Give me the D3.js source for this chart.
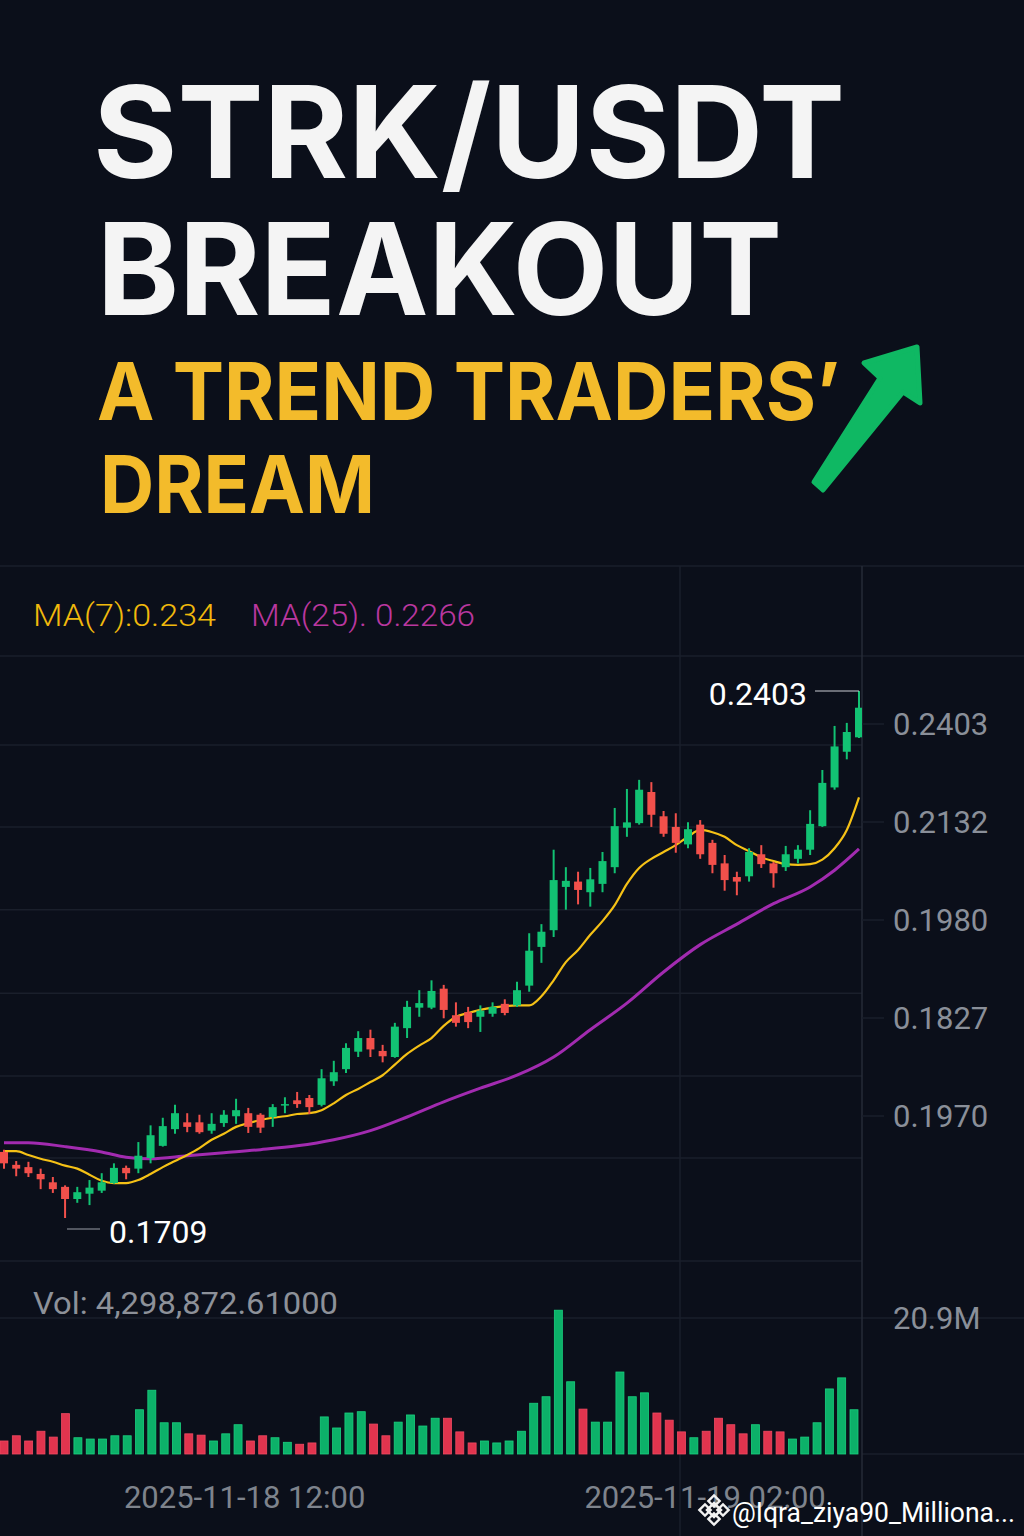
<!DOCTYPE html>
<html><head><meta charset="utf-8">
<script src="https://cdn.jsdelivr.net/npm/d3@7"></script>
<style>body{margin:0;background:#0b0f1a}svg{display:block}</style>
</head><body>
<svg id="chart" width="1024" height="1536"></svg>
<script>
// ---------- DATA ----------
const candleOpen = [
0.1796,0.1779,0.1776,0.1767,0.1756,0.1750,0.1734,0.1741,0.1745,0.1755,
0.1775,0.1774,0.1788,0.1804,0.1826,0.1835,0.1835,0.1824,0.1834,0.1843,
0.1847,0.1845,0.1842,0.1858,0.1864,0.1867,0.1858,0.1889,0.1905,0.1928,
0.1946,0.1929,0.1921,0.1959,0.1986,0.1986,0.2011,0.1976,0.1980,0.1974,
0.1978,0.1991,0.1989,0.2015,0.2066,0.2088,0.2145,0.2152,0.2138,0.2149,
0.2171,0.2223,0.2229,0.2270,0.2238,0.2224,0.2201,0.2227,0.2203,0.2176,
0.2158,0.2159,0.2188,0.2176,0.2171,0.2182,0.2194,0.2225,0.2276,0.2323,
0.2342];
const candleClose = [
0.1781,0.1774,0.1768,0.1760,0.1747,0.1734,0.1743,0.1749,0.1756,0.1775,
0.1768,0.1791,0.1818,0.1830,0.1847,0.1829,0.1822,0.1833,0.1845,0.1851,
0.1829,0.1828,0.1855,0.1859,0.1859,0.1855,0.1893,0.1901,0.1933,0.1946,
0.1931,0.1922,0.1961,0.1987,0.1992,0.2008,0.1983,0.1966,0.1967,0.1982,
0.1987,0.1979,0.2009,0.2061,0.2086,0.2154,0.2153,0.2141,0.2155,0.2179,
0.2225,0.2230,0.2273,0.2240,0.2215,0.2203,0.2221,0.2188,0.2174,0.2154,
0.2152,0.2191,0.2175,0.2163,0.2188,0.2194,0.2228,0.2282,0.2330,0.2349,
0.2381];
const candleHigh = [
0.1799,0.1784,0.1783,0.1774,0.1763,0.1752,0.1750,0.1759,0.1768,0.1781,
0.1778,0.1809,0.1831,0.1841,0.1858,0.1847,0.1845,0.1847,0.1851,0.1866,
0.1854,0.1847,0.1859,0.1868,0.1875,0.1871,0.1905,0.1916,0.1939,0.1955,
0.1957,0.1937,0.1966,0.1995,0.2009,0.2022,0.2016,0.1993,0.1987,0.1989,
0.1993,0.1997,0.2020,0.2084,0.2096,0.2194,0.2171,0.2165,0.2170,0.2191,
0.2249,0.2274,0.2286,0.2283,0.2245,0.2242,0.2230,0.2233,0.2207,0.2187,
0.2165,0.2196,0.2200,0.2178,0.2199,0.2200,0.2246,0.2299,0.2357,0.2361,
0.2403];
const candleLow = [
0.1774,0.1764,0.1763,0.1747,0.1742,0.1709,0.1729,0.1726,0.1742,0.1754,
0.1760,0.1768,0.1781,0.1803,0.1820,0.1822,0.1820,0.1820,0.1829,0.1833,
0.1821,0.1821,0.1829,0.1847,0.1854,0.1846,0.1856,0.1883,0.1900,0.1921,
0.1921,0.1914,0.1920,0.1946,0.1974,0.1984,0.1972,0.1961,0.1959,0.1954,
0.1974,0.1976,0.1987,0.2007,0.2045,0.2079,0.2115,0.2122,0.2119,0.2138,
0.2163,0.2211,0.2227,0.2224,0.2211,0.2190,0.2196,0.2182,0.2163,0.2140,
0.2134,0.2152,0.2170,0.2144,0.2166,0.2176,0.2187,0.2224,0.2273,0.2313,
0.2341];

// MA(7) values by candle index
const ma7Index = d3.range(71);
const ma7Values = [
0.1797,0.1797,0.1792,0.1787,0.1783,0.1778,0.1774,0.1766,0.1758,0.1755,
0.1755,0.1759,0.1767,0.1776,0.1784,0.1792,0.1801,0.1812,0.1820,0.1829,
0.1834,0.1838,0.1841,0.1843,0.1846,0.1847,0.1851,0.1860,0.1871,0.1879,
0.1888,0.1897,0.1911,0.1925,0.1936,0.1946,0.1962,0.1974,0.1979,0.1983,
0.1986,0.1988,0.1989,0.1989,0.2001,0.2022,0.2046,0.2062,0.2082,0.2100,
0.2121,0.2149,0.2170,0.2182,0.2191,0.2200,0.2211,0.2220,0.2217,0.2211,
0.2200,0.2192,0.2184,0.2179,0.2175,0.2174,0.2175,0.2181,0.2196,0.2220,
0.2263];
// MA(25) values at selected candle indices
const ma25Index  = [0,2,5,8,10,12,15,18,21,24,27,30,33,36,39,42,45,48,51,54,57,60,63,66,68,70];
const ma25Values = [0.1808,0.1808,0.1803,0.1796,0.1789,0.1787,0.1791,0.1795,0.1799,0.1804,
                    0.1812,0.1824,0.1842,0.1862,0.1880,0.1897,0.1921,0.1957,0.1992,0.2033,
                    0.2069,0.2096,0.2123,0.2145,0.2167,0.2195];

// Volume (millions) and direction
const volumeM = [2.0,2.8,2.0,3.5,2.6,6.2,2.5,2.3,2.3,2.8, 2.8,6.8,9.8,4.8,4.8,3.1,2.9,2.0,3.1,4.5,
                 2.0,2.8,2.5,1.8,1.5,1.7,5.7,4.0,6.3,6.5, 4.6,2.8,4.9,6.0,4.3,5.5,5.5,3.4,1.7,2.0,
                 1.7,2.0,3.5,7.8,8.8,22.1,11.1,6.9,4.9,4.9, 12.6,8.8,9.4,6.3,5.2,3.4,2.5,3.5,5.5,4.5,
                 3.1,4.5,3.5,3.4,2.3,2.6,4.8,10.0,11.7,6.8];
const volumeDir = ['d','d','d','d','d','d','u','u','u','u','u','u','u','u','u','d','d','u','u','u',
                   'd','d','u','u','d','d','u','u','u','u','d','d','u','u','u','u','d','d','d','u',
                   'u','u','u','u','u','u','u','d','u','u','u','u','u','d','d','d','u','d','d','d',
                   'd','u','d','d','u','u','u','u','u','u'];

const gridPrices = [0.2332, 0.2224, 0.2115, 0.2005, 0.1896, 0.1788];
const yAxisLabels = ['0.2403','0.2132','0.1980','0.1827','0.1970'];
const volAxisLabel = '20.9M';
const volMaxM = 20.9;
const timeLabels = ['2025-11-18 12:00','2025-11-19 02:00'];
const timeLabelIndex = [19.7, 57.4];
const titleLines = ['STRK/USDT','BREAKOUT'];
const subtitleLines = ['A TREND TRADERS\u2019','DREAM'];
const maLegend = ['MA(7):0.234','MA(25). 0.2266'];
const volLegend = 'Vol: 4,298,872.61000';
const maxLabel = '0.2403', minLabel = '0.1709';
const watermark = '@Iqra_ziya90_Milliona...';

// ---------- DRAW ----------
const svg = d3.select('#chart');
const W = 1024, H = 1536, plotRight = 862;
const BG = '#0b0f1a', GRID = '#1a1f2b', AXIS_TXT = '#8a8f99';
const UP = '#12c273', DOWN = '#f2504b', VUP = '#0cb169', VDOWN = '#e1344e';
const YEL = '#f5c116', PUR = '#a22bb0';

svg.append('rect').attr('width', W).attr('height', H).attr('fill', BG);

const idx = d3.range(candleOpen.length);
const x = d3.scalePoint().domain(idx).range([4, 859]);
const y = d3.scaleLinear().domain([0.1709, 0.2403]).range([1218, 691]);
const xv = d3.scalePoint().domain(d3.range(volumeM.length)).range([4, 854]);
const yv = d3.scaleLinear().domain([0, volMaxM]).range([1454, 1318]);
const xi = d3.scaleLinear().domain([0, idx.length - 1]).range([4, 859]);

// Title
const title = svg.append('g').attr('font-family', 'Inter, "Open Sans", sans-serif').attr('font-weight', 700);
title.selectAll('text.t').data(titleLines).join('text')
  .attr('x', (d, i) => i ? 97 : 93).attr('y', (d, i) => i ? 315 : 178)
  .attr('font-size', 128).attr('fill', '#f4f4f4')
  .attr('textLength', (d, i) => i ? 685 : 752).attr('lengthAdjust', 'spacingAndGlyphs')
  .text(d => d);
title.selectAll('text.s').data(subtitleLines).join('text')
  .attr('x', (d, i) => i ? 100 : 97).attr('y', (d, i) => i ? 513 : 420)
  .attr('font-size', 80).attr('fill', '#f3bb2b')
  .attr('textLength', (d, i) => i ? 275 : 743).attr('lengthAdjust', 'spacingAndGlyphs')
  .text(d => d);

// Arrow
svg.append('path')
  .attr('d', 'M814,482 L880,378 L864,363 L917,347 L920,403 L903,392 L823,490 Z')
  .attr('fill', '#0fb863').attr('stroke', '#0fb863').attr('stroke-width', 5).attr('stroke-linejoin', 'round');

// Chart frame lines
const frame = svg.append('g').attr('stroke', GRID).attr('stroke-width', 1.5);
frame.append('line').attr('x1', 0).attr('x2', W).attr('y1', 566).attr('y2', 566);
frame.append('line').attr('x1', 0).attr('x2', W).attr('y1', 656).attr('y2', 656);
frame.selectAll('line.g').data(gridPrices).join('line')
  .attr('x1', 0).attr('x2', plotRight).attr('y1', d => y(d)).attr('y2', d => y(d));
frame.append('line').attr('x1', 0).attr('x2', plotRight).attr('y1', 1261).attr('y2', 1261);
frame.append('line').attr('x1', 0).attr('x2', W).attr('y1', yv(volMaxM)).attr('y2', yv(volMaxM));
frame.append('line').attr('x1', plotRight).attr('x2', W).attr('y1', yv(0)).attr('y2', yv(0));
frame.append('line').attr('x1', 680).attr('x2', 680).attr('y1', 566).attr('y2', H);
frame.append('line').attr('x1', plotRight).attr('x2', plotRight).attr('y1', 566).attr('y2', H).attr('stroke', '#262b37');

// y-axis labels
const yl = d3.scalePoint().domain(yAxisLabels).range([724, 1116]);
const axg = svg.append('g');
axg.selectAll('line').data(yAxisLabels).join('line')
  .attr('x1', plotRight).attr('x2', 884).attr('y1', d => yl(d)).attr('y2', d => yl(d))
  .attr('stroke', GRID).attr('stroke-width', 1.5);
axg.selectAll('text').data(yAxisLabels).join('text')
  .attr('x', 893).attr('y', d => yl(d)).attr('dy', '0.36em')
  .attr('font-family', 'Roboto, sans-serif').attr('font-size', 31).attr('fill', AXIS_TXT)
  .text(d => d);
svg.append('text').attr('x', 893).attr('y', yv(volMaxM)).attr('dy', '0.36em')
  .attr('font-family', 'Roboto, sans-serif').attr('font-size', 31).attr('fill', AXIS_TXT).text(volAxisLabel);

// MA legend
svg.selectAll('text.leg').data(maLegend).join('text')
  .attr('x', (d, i) => i ? 251 : 33).attr('y', 626)
  .attr('font-family', 'Roboto, sans-serif').attr('font-weight', 300).attr('font-size', 32)
  .attr('fill', (d, i) => i ? '#b9379f' : '#f1b90c')
  .attr('textLength', (d, i) => i ? 224 : 183).attr('lengthAdjust', 'spacingAndGlyphs')
  .text(d => d);

// Clip for plot
svg.append('clipPath').attr('id', 'plotclip').append('rect').attr('x', 0).attr('y', 566).attr('width', plotRight).attr('height', 1000);
const plot = svg.append('g').attr('clip-path', 'url(#plotclip)');

// MA lines
const line = d3.line().x(d => xi(d[0])).y(d => y(d[1])).curve(d3.curveMonotoneX);
plot.append('path').datum(ma25Index.map((k, i) => [k, ma25Values[i]]))
  .attr('d', line).attr('fill', 'none').attr('stroke', PUR).attr('stroke-width', 3);
plot.append('path').datum(ma7Index.map((k, i) => [k, ma7Values[i]]))
  .attr('d', line).attr('fill', 'none').attr('stroke', YEL).attr('stroke-width', 2.2);

// Candles
const bodyW = 8;
const cg = plot.selectAll('g.c').data(idx).join('g');
cg.append('line')
  .attr('x1', i => x(i)).attr('x2', i => x(i))
  .attr('y1', i => y(candleHigh[i])).attr('y2', i => y(candleLow[i]))
  .attr('stroke', i => candleClose[i] >= candleOpen[i] ? UP : DOWN).attr('stroke-width', 2);
cg.append('rect')
  .attr('x', i => x(i) - bodyW / 2).attr('width', bodyW)
  .attr('y', i => y(Math.max(candleOpen[i], candleClose[i])))
  .attr('height', i => Math.max(1.5, Math.abs(y(candleOpen[i]) - y(candleClose[i]))))
  .attr('fill', i => candleClose[i] >= candleOpen[i] ? UP : DOWN);

// Volume
plot.selectAll('rect.v').data(volumeM).join('rect')
  .attr('x', (d, i) => xv(i) - 4).attr('width', 8)
  .attr('y', d => yv(d)).attr('height', d => yv(0) - yv(d))
  .attr('fill', (d, i) => volumeDir[i] === 'u' ? VUP : VDOWN)
  .attr('stroke', (d, i) => volumeDir[i] === 'u' ? '#1ad17f' : '#f04a62').attr('stroke-width', 0.8);

// Max / min annotations
const iMax = d3.maxIndex(candleHigh), iMin = d3.minIndex(candleLow);
svg.append('line').attr('x1', 815).attr('x2', x(iMax)).attr('y1', y(candleHigh[iMax])).attr('y2', y(candleHigh[iMax]))
  .attr('stroke', '#c9ccd2').attr('stroke-width', 1.2);
svg.append('text').attr('x', 807).attr('y', y(candleHigh[iMax]) + 2).attr('dy', '0.36em').attr('text-anchor', 'end')
  .attr('font-family', 'Roboto, sans-serif').attr('font-size', 32).attr('fill', '#ffffff').text(maxLabel);
svg.append('line').attr('x1', 67).attr('x2', 100).attr('y1', y(candleLow[iMin]) + 11).attr('y2', y(candleLow[iMin]) + 11)
  .attr('stroke', '#9a9ea6').attr('stroke-width', 1.2);
svg.append('text').attr('x', 109).attr('y', y(candleLow[iMin]) + 13).attr('dy', '0.36em')
  .attr('font-family', 'Roboto, sans-serif').attr('font-size', 32).attr('fill', '#ffffff').text(minLabel);

// Volume legend
svg.append('text').attr('x', 33).attr('y', 1303).attr('dy', '0.36em')
  .attr('font-family', 'Roboto, sans-serif').attr('font-size', 31).attr('fill', '#8d9199')
  .attr('textLength', 305).attr('lengthAdjust', 'spacingAndGlyphs').text(volLegend);

// Time labels
svg.selectAll('text.time').data(timeLabels).join('text')
  .attr('x', (d, i) => xi(timeLabelIndex[i])).attr('y', 1497).attr('dy', '0.36em').attr('text-anchor', 'middle')
  .attr('font-family', 'Roboto, sans-serif').attr('font-size', 31).attr('fill', '#7e838c')
  .text(d => d);

// Watermark
const wm = svg.append('g').attr('transform', 'translate(714,1510)').attr('fill', 'none').attr('stroke', '#f2f2f2').attr('stroke-width', 2.4);
[[0,0,5],[0,-9,4],[0,9,4],[-9,0,4],[9,0,4]].forEach(([dx, dy, s]) => {
  wm.append('rect').attr('x', dx - s).attr('y', dy - s).attr('width', 2 * s).attr('height', 2 * s)
    .attr('transform', `rotate(45 ${dx} ${dy})`);
});
svg.append('text').attr('x', 732).attr('y', 1512).attr('dy', '0.36em')
  .attr('font-family', 'Roboto, sans-serif').attr('font-size', 27).attr('fill', '#ffffff')
  .attr('textLength', 283).attr('lengthAdjust', 'spacingAndGlyphs').text(watermark);
</script>
</body></html>
